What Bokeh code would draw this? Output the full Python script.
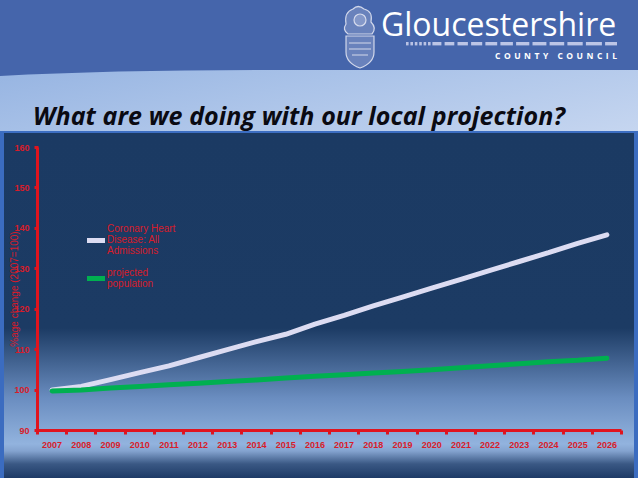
from bokeh.plotting import figure
from bokeh.models import Range1d, FixedTicker, Legend, LegendItem, Div
from bokeh.layouts import column
from bokeh.embed import file_html
from bokeh.resources import INLINE

# ---- data ----
years = [2007, 2008, 2009, 2010, 2011, 2012, 2013, 2014, 2015, 2016,
         2017, 2018, 2019, 2020, 2021, 2022, 2023, 2024, 2025, 2026]
chd_admissions = [100.0, 100.9, 102.6, 104.3, 106.0, 108.0, 110.0, 112.0, 113.8, 116.3,
                  118.5, 120.8, 123.0, 125.2, 127.4, 129.6, 131.8, 134.0, 136.3, 138.4]
projected_population = [99.8, 100.0, 100.5, 100.9, 101.3, 101.7, 102.1, 102.5, 103.0, 103.4,
                        103.8, 104.2, 104.6, 105.0, 105.5, 106.0, 106.5, 107.0, 107.4, 107.9]
y_ticks = [90, 100, 110, 120, 130, 140, 150, 160]
series_labels = ["Coronary Heart\nDisease: All\nAdmissions", "projected\npopulation"]
y_label = "%age change (2007=100)"
slide_title = "What are we doing with our local projection?"
logo_name = "Gloucestershire"
logo_sub = "COUNTY COUNCIL"

RED = "#e0141e"
LBL = "#d81c2a"

W = 638
HEAD_H = 133
CH_H = 478 - HEAD_H
FL, FR = 37, 621          # frame left/right (canvas px)
FT, FB = 147 - HEAD_H, 430 - HEAD_H   # frame top/bottom inside the chart figure

# ---------------- header (slide banner + title) ----------------
bar = []
x = 406.0
for i in range(6):
    bar.append('<rect x="%.1f" y="42" width="2.6" height="3.4" fill="#b9c2e4"/>' % x)
    x += 4.4
wseg = 9.0
while x < 612:
    w = min(wseg, 617 - x)
    bar.append('<rect x="%.1f" y="42" width="%.1f" height="3.4" fill="#bcc5e6"/>' % (x, w))
    x += w + 3.2
    wseg += 0.7

header_svg = f'''
<svg xmlns="http://www.w3.org/2000/svg" width="{W}" height="{HEAD_H}" style="display:block">
  <defs>
    <linearGradient id="band" x1="0" y1="0" x2="1" y2="1">
      <stop offset="0" stop-color="#86a8dc"/>
      <stop offset="0.55" stop-color="#a9c2e8"/>
      <stop offset="1" stop-color="#c6d6f0"/>
    </linearGradient>
  </defs>
  <rect x="0" y="0" width="{W}" height="{HEAD_H}" fill="url(#band)"/>
  <path d="M0,0 H{W} V70 H260 Q110,70 0,76 Z" fill="#4565ab"/>
  <rect x="0" y="{HEAD_H - 2}" width="{W}" height="2" fill="#3c6ec2"/>
  <g fill="#d6dbee" fill-opacity="0.25" stroke="#e6e9f4" stroke-width="1.2" stroke-opacity="0.85">
    <path d="M346,24 Q344,12 353,9 Q358,4 364,9 Q373,11 371,22 Q377,28 372,34 H348 Q342,30 346,24 Z"/>
    <path d="M346,36 H374 V52 Q374,63 360,68 Q346,63 346,52 Z"/>
    <path d="M349,43 H371 M349,49 H371 M352,55 H368"/>
    <circle cx="360" cy="20" r="6"/>
  </g>
  <text x="381" y="36" style="font-family:'Open Sans';font-size:32px" fill="#ffffff">{logo_name}</text>
  {''.join(bar)}
  <text x="495" y="59" textLength="122" lengthAdjust="spacing"
        style="font-family:'Open Sans';font-weight:bold;font-size:8.5px" fill="#ffffff">{logo_sub}</text>
  <text x="33" y="125" textLength="532" lengthAdjust="spacing"
        style="font-family:'Open Sans';font-weight:bold;font-style:italic;font-size:25px"
        fill="#0a0a12">{slide_title}</text>
</svg>'''

header = Div(text=header_svg, width=W, height=HEAD_H, margin=0)

# ---------------- chart ----------------
p = figure(width=W, height=CH_H, output_backend="svg", toolbar_location=None,
           x_range=Range1d(2006.5, 2026.5), y_range=Range1d(90, 160),
           min_border_left=FL, min_border_right=W - FR,
           min_border_top=FT, min_border_bottom=CH_H - FB, margin=0)
p.border_fill_color = None
p.background_fill_color = None
p.outline_line_color = None
p.grid.visible = False

p.styles = {
    "background": (
        "linear-gradient(to right, #3b6cc0 0px, #3b6cc0 4px, transparent 4px, transparent 634px, #3b6cc0 634px),"
        "linear-gradient(to bottom, #1b3a63 0px, #1c3b64 195px, #6a8dc0 265px,"
        " #92b3de 311px, #84a3cf 318px, #3a5884 331px, #1d3a66 345px)"
    )
}

r_chd = p.line(years, chd_admissions, line_color="#dcdcf2", line_width=5, line_cap="round")
r_pop = p.line(years, projected_population, line_color="#00b050", line_width=5, line_cap="round")

xa = p.xaxis[0]
xa.ticker = FixedTicker(ticks=years, minor_ticks=[y - 0.5 for y in years] + [years[-1] + 0.5])
xa.axis_line_color = RED
xa.axis_line_width = 3
xa.major_tick_out = 0
xa.major_tick_in = 0
xa.minor_tick_out = 4
xa.minor_tick_in = 0
xa.minor_tick_line_color = RED
xa.minor_tick_line_width = 3
xa.major_label_standoff = 7
xa.major_label_text_color = LBL
xa.major_label_text_font = "Liberation Sans"
xa.major_label_text_font_style = "bold"
xa.major_label_text_font_size = "9px"

ya = p.yaxis[0]
ya.ticker = FixedTicker(ticks=y_ticks)
ya.axis_line_color = RED
ya.axis_line_width = 3
ya.major_tick_out = 3
ya.major_tick_in = 1
ya.major_tick_line_color = RED
ya.major_tick_line_width = 3
ya.minor_tick_line_color = None
ya.major_label_standoff = 5
ya.major_label_text_color = LBL
ya.major_label_text_font = "Liberation Sans"
ya.major_label_text_font_style = "bold"
ya.major_label_text_font_size = "9px"
ya.axis_label = y_label
ya.axis_label_text_color = LBL
ya.axis_label_text_font = "Liberation Sans"
ya.axis_label_text_font_style = "normal"
ya.axis_label_text_font_size = "10px"
ya.axis_label_standoff = -9

legend = Legend(items=[LegendItem(label=series_labels[0], renderers=[r_chd]),
                       LegendItem(label=series_labels[1], renderers=[r_pop])],
                location=(50, 141), orientation="vertical",
                background_fill_alpha=0, border_line_color=None,
                label_text_color=LBL, label_text_font="Liberation Sans",
                label_text_font_size="10px", glyph_width=18, glyph_height=10,
                label_standoff=2, spacing=11, padding=0, margin=0)
p.add_layout(legend)

page = column(header, p, spacing=0, margin=0)

html = file_html(page, INLINE)
html = html.replace("<head>", "<head><style>html,body{margin:0;padding:0;overflow:hidden;}</style>", 1)
open("out.html", "w").write(html)
